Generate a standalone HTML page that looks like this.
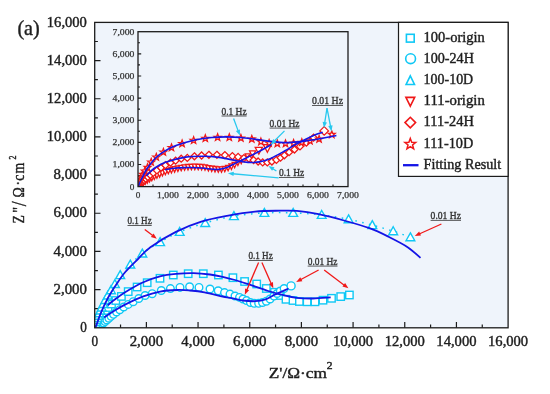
<!DOCTYPE html>
<html lang="en"><head><meta charset="utf-8"><title>Nyquist plot</title>
<style>html,body{margin:0;padding:0;background:#fff}svg{display:block}</style></head>
<body>
<svg width="550" height="394" viewBox="0 0 550 394" font-family="'Liberation Serif', 'DejaVu Serif', serif">
<rect width="550" height="394" fill="#fff"/>
<rect x="94.7" y="22.4" width="413.4" height="305.4" fill="#eff4fb"/>
<path d="M120.54 327.8 v-3.2 M94.7 308.71 h3.2 M146.38 327.8 v-5.8 M94.7 289.62 h5.8 M172.21 327.8 v-3.2 M94.7 270.54 h3.2 M198.05 327.8 v-5.8 M94.7 251.45 h5.8 M223.89 327.8 v-3.2 M94.7 232.36 h3.2 M249.73 327.8 v-5.8 M94.7 213.27 h5.8 M275.56 327.8 v-3.2 M94.7 194.19 h3.2 M301.4 327.8 v-5.8 M94.7 175.1 h5.8 M327.24 327.8 v-3.2 M94.7 156.01 h3.2 M353.08 327.8 v-5.8 M94.7 136.92 h5.8 M378.91 327.8 v-3.2 M94.7 117.84 h3.2 M404.75 327.8 v-5.8 M94.7 98.75 h5.8 M430.59 327.8 v-3.2 M94.7 79.66 h3.2 M456.43 327.8 v-5.8 M94.7 60.57 h5.8 M482.26 327.8 v-3.2 M94.7 41.49 h3.2" stroke="#1c1c1c" stroke-width="1.2" fill="none"/>
<defs><clipPath id="cm"><rect x="94.7" y="22.4" width="413.4" height="305.4"/></clipPath><clipPath id="ci"><rect x="138" y="31.7" width="210" height="154.9"/></clipPath></defs>
<g id="main-data" clip-path="url(#cm)">
<path d="M410.4 237.3 C407.53 236.28 399.55 233.23 393.2 231.2 C386.85 229.17 379.73 227.08 372.3 225.1 C364.87 223.12 357.03 221 348.6 219.3 C340.17 217.6 330.93 215.97 321.7 214.9 C312.47 213.83 302.75 213.23 293.2 212.9 C283.65 212.57 274.28 212.37 264.4 212.9 C254.52 213.43 243.77 214.42 233.9 216.1 C224.03 217.78 214.23 220.37 205.2 223 C196.17 225.63 187.22 228.72 179.7 231.9 C172.18 235.08 166.33 238.5 160.1 242.1 C153.87 245.7 147.27 249.77 142.3 253.5 C137.33 257.23 133.98 260.9 130.3 264.5 C126.62 268.1 121.88 273.33 120.2 275.1" fill="none" stroke="#10c8f5" stroke-width="1.5" stroke-dasharray="1.6 5.4"/>
<rect x="91.8" y="323.8" width="7.4" height="7.4" fill="#fff" stroke="#10c8f5" stroke-width="1.4"/>
<rect x="92.8" y="322.3" width="7.4" height="7.4" fill="#fff" stroke="#10c8f5" stroke-width="1.4"/>
<rect x="93.8" y="320.3" width="7.4" height="7.4" fill="#fff" stroke="#10c8f5" stroke-width="1.4"/>
<rect x="94.8" y="318.3" width="7.4" height="7.4" fill="#fff" stroke="#10c8f5" stroke-width="1.4"/>
<rect x="95.8" y="316.3" width="7.4" height="7.4" fill="#fff" stroke="#10c8f5" stroke-width="1.4"/>
<rect x="96.8" y="314.3" width="7.4" height="7.4" fill="#fff" stroke="#10c8f5" stroke-width="1.4"/>
<rect x="98.3" y="311.8" width="7.4" height="7.4" fill="#fff" stroke="#10c8f5" stroke-width="1.4"/>
<rect x="99.8" y="309.3" width="7.4" height="7.4" fill="#fff" stroke="#10c8f5" stroke-width="1.4"/>
<rect x="101.8" y="306.8" width="7.4" height="7.4" fill="#fff" stroke="#10c8f5" stroke-width="1.4"/>
<rect x="104.3" y="303.8" width="7.4" height="7.4" fill="#fff" stroke="#10c8f5" stroke-width="1.4"/>
<rect x="107.8" y="300.3" width="7.4" height="7.4" fill="#fff" stroke="#10c8f5" stroke-width="1.4"/>
<rect x="112.1" y="296.8" width="7.4" height="7.4" fill="#fff" stroke="#10c8f5" stroke-width="1.4"/>
<rect x="117.7" y="292.7" width="7.4" height="7.4" fill="#fff" stroke="#10c8f5" stroke-width="1.4"/>
<rect x="124.5" y="287.9" width="7.4" height="7.4" fill="#fff" stroke="#10c8f5" stroke-width="1.4"/>
<rect x="133.4" y="283.3" width="7.4" height="7.4" fill="#fff" stroke="#10c8f5" stroke-width="1.4"/>
<rect x="143.5" y="279" width="7.4" height="7.4" fill="#fff" stroke="#10c8f5" stroke-width="1.4"/>
<rect x="156.3" y="274.6" width="7.4" height="7.4" fill="#fff" stroke="#10c8f5" stroke-width="1.4"/>
<rect x="169.6" y="271.3" width="7.4" height="7.4" fill="#fff" stroke="#10c8f5" stroke-width="1.4"/>
<rect x="184.5" y="270" width="7.4" height="7.4" fill="#fff" stroke="#10c8f5" stroke-width="1.4"/>
<rect x="199.6" y="270" width="7.4" height="7.4" fill="#fff" stroke="#10c8f5" stroke-width="1.4"/>
<rect x="214.7" y="271.3" width="7.4" height="7.4" fill="#fff" stroke="#10c8f5" stroke-width="1.4"/>
<rect x="229.2" y="274" width="7.4" height="7.4" fill="#fff" stroke="#10c8f5" stroke-width="1.4"/>
<rect x="240.9" y="277.8" width="7.4" height="7.4" fill="#fff" stroke="#10c8f5" stroke-width="1.4"/>
<rect x="253" y="280.3" width="7.4" height="7.4" fill="#fff" stroke="#10c8f5" stroke-width="1.4"/>
<rect x="262.6" y="284.8" width="7.4" height="7.4" fill="#fff" stroke="#10c8f5" stroke-width="1.4"/>
<rect x="270.8" y="288.6" width="7.4" height="7.4" fill="#fff" stroke="#10c8f5" stroke-width="1.4"/>
<rect x="276.6" y="291.8" width="7.4" height="7.4" fill="#fff" stroke="#10c8f5" stroke-width="1.4"/>
<rect x="282.3" y="295.6" width="7.4" height="7.4" fill="#fff" stroke="#10c8f5" stroke-width="1.4"/>
<rect x="289.3" y="296.8" width="7.4" height="7.4" fill="#fff" stroke="#10c8f5" stroke-width="1.4"/>
<rect x="295.7" y="297.8" width="7.4" height="7.4" fill="#fff" stroke="#10c8f5" stroke-width="1.4"/>
<rect x="303.4" y="298.1" width="7.4" height="7.4" fill="#fff" stroke="#10c8f5" stroke-width="1.4"/>
<rect x="311.3" y="298.1" width="7.4" height="7.4" fill="#fff" stroke="#10c8f5" stroke-width="1.4"/>
<rect x="319.3" y="296.5" width="7.4" height="7.4" fill="#fff" stroke="#10c8f5" stroke-width="1.4"/>
<rect x="327.8" y="294.6" width="7.4" height="7.4" fill="#fff" stroke="#10c8f5" stroke-width="1.4"/>
<rect x="337" y="292.9" width="7.4" height="7.4" fill="#fff" stroke="#10c8f5" stroke-width="1.4"/>
<rect x="345.7" y="291.3" width="7.4" height="7.4" fill="#fff" stroke="#10c8f5" stroke-width="1.4"/>
<circle cx="95.4" cy="328" r="3.8" fill="#fff" stroke="#10c8f5" stroke-width="1.4"/>
<circle cx="96.3" cy="327.8" r="3.8" fill="#fff" stroke="#10c8f5" stroke-width="1.4"/>
<circle cx="97.3" cy="327.5" r="3.8" fill="#fff" stroke="#10c8f5" stroke-width="1.4"/>
<circle cx="98.4" cy="327" r="3.8" fill="#fff" stroke="#10c8f5" stroke-width="1.4"/>
<circle cx="99.5" cy="326.2" r="3.8" fill="#fff" stroke="#10c8f5" stroke-width="1.4"/>
<circle cx="100.7" cy="325.3" r="3.8" fill="#fff" stroke="#10c8f5" stroke-width="1.4"/>
<circle cx="102" cy="324.2" r="3.8" fill="#fff" stroke="#10c8f5" stroke-width="1.4"/>
<circle cx="103.4" cy="323" r="3.8" fill="#fff" stroke="#10c8f5" stroke-width="1.4"/>
<circle cx="105" cy="321.5" r="3.8" fill="#fff" stroke="#10c8f5" stroke-width="1.4"/>
<circle cx="106.8" cy="320" r="3.8" fill="#fff" stroke="#10c8f5" stroke-width="1.4"/>
<circle cx="108.8" cy="318.2" r="3.8" fill="#fff" stroke="#10c8f5" stroke-width="1.4"/>
<circle cx="111" cy="316.3" r="3.8" fill="#fff" stroke="#10c8f5" stroke-width="1.4"/>
<circle cx="113.5" cy="314.3" r="3.8" fill="#fff" stroke="#10c8f5" stroke-width="1.4"/>
<circle cx="116.5" cy="312" r="3.8" fill="#fff" stroke="#10c8f5" stroke-width="1.4"/>
<circle cx="119.8" cy="309.7" r="3.8" fill="#fff" stroke="#10c8f5" stroke-width="1.4"/>
<circle cx="123.7" cy="307" r="3.8" fill="#fff" stroke="#10c8f5" stroke-width="1.4"/>
<circle cx="128.2" cy="304.4" r="3.8" fill="#fff" stroke="#10c8f5" stroke-width="1.4"/>
<circle cx="133.2" cy="301.7" r="3.8" fill="#fff" stroke="#10c8f5" stroke-width="1.4"/>
<circle cx="138.8" cy="298.5" r="3.8" fill="#fff" stroke="#10c8f5" stroke-width="1.4"/>
<circle cx="145.1" cy="295.5" r="3.8" fill="#fff" stroke="#10c8f5" stroke-width="1.4"/>
<circle cx="152.2" cy="293.7" r="3.8" fill="#fff" stroke="#10c8f5" stroke-width="1.4"/>
<circle cx="161.3" cy="290.5" r="3.8" fill="#fff" stroke="#10c8f5" stroke-width="1.4"/>
<circle cx="170.4" cy="288.6" r="3.8" fill="#fff" stroke="#10c8f5" stroke-width="1.4"/>
<circle cx="180" cy="287.4" r="3.8" fill="#fff" stroke="#10c8f5" stroke-width="1.4"/>
<circle cx="189.6" cy="286.8" r="3.8" fill="#fff" stroke="#10c8f5" stroke-width="1.4"/>
<circle cx="199" cy="287.4" r="3.8" fill="#fff" stroke="#10c8f5" stroke-width="1.4"/>
<circle cx="210" cy="289" r="3.8" fill="#fff" stroke="#10c8f5" stroke-width="1.4"/>
<circle cx="218.2" cy="290.8" r="3.8" fill="#fff" stroke="#10c8f5" stroke-width="1.4"/>
<circle cx="224.5" cy="292.6" r="3.8" fill="#fff" stroke="#10c8f5" stroke-width="1.4"/>
<circle cx="230" cy="294.1" r="3.8" fill="#fff" stroke="#10c8f5" stroke-width="1.4"/>
<circle cx="235" cy="296" r="3.8" fill="#fff" stroke="#10c8f5" stroke-width="1.4"/>
<circle cx="239.5" cy="297.4" r="3.8" fill="#fff" stroke="#10c8f5" stroke-width="1.4"/>
<circle cx="243" cy="299" r="3.8" fill="#fff" stroke="#10c8f5" stroke-width="1.4"/>
<circle cx="246.6" cy="300.6" r="3.8" fill="#fff" stroke="#10c8f5" stroke-width="1.4"/>
<circle cx="250.4" cy="302.5" r="3.8" fill="#fff" stroke="#10c8f5" stroke-width="1.4"/>
<circle cx="254.2" cy="303.3" r="3.8" fill="#fff" stroke="#10c8f5" stroke-width="1.4"/>
<circle cx="258.6" cy="303.3" r="3.8" fill="#fff" stroke="#10c8f5" stroke-width="1.4"/>
<circle cx="262.5" cy="302.5" r="3.8" fill="#fff" stroke="#10c8f5" stroke-width="1.4"/>
<circle cx="266.3" cy="301.2" r="3.8" fill="#fff" stroke="#10c8f5" stroke-width="1.4"/>
<circle cx="270.1" cy="299" r="3.8" fill="#fff" stroke="#10c8f5" stroke-width="1.4"/>
<circle cx="273.9" cy="296.1" r="3.8" fill="#fff" stroke="#10c8f5" stroke-width="1.4"/>
<circle cx="277.1" cy="293.5" r="3.8" fill="#fff" stroke="#10c8f5" stroke-width="1.4"/>
<circle cx="280.3" cy="291" r="3.8" fill="#fff" stroke="#10c8f5" stroke-width="1.4"/>
<circle cx="284.1" cy="288.5" r="3.8" fill="#fff" stroke="#10c8f5" stroke-width="1.4"/>
<circle cx="291.1" cy="285.9" r="4" fill="#fff" stroke="#10c8f5" stroke-width="1.4"/>
<path d="M95.1 322.78 L99.5 330.68 L90.7 330.68 Z" fill="#fff" stroke="#10c8f5" stroke-width="1.4"/>
<path d="M95.4 321.28 L99.8 329.18 L91 329.18 Z" fill="#fff" stroke="#10c8f5" stroke-width="1.4"/>
<path d="M95.8 319.58 L100.2 327.48 L91.4 327.48 Z" fill="#fff" stroke="#10c8f5" stroke-width="1.4"/>
<path d="M96.3 317.58 L100.7 325.48 L91.9 325.48 Z" fill="#fff" stroke="#10c8f5" stroke-width="1.4"/>
<path d="M96.9 315.58 L101.3 323.48 L92.5 323.48 Z" fill="#fff" stroke="#10c8f5" stroke-width="1.4"/>
<path d="M97.6 313.58 L102 321.48 L93.2 321.48 Z" fill="#fff" stroke="#10c8f5" stroke-width="1.4"/>
<path d="M98.4 311.28 L102.8 319.18 L94 319.18 Z" fill="#fff" stroke="#10c8f5" stroke-width="1.4"/>
<path d="M99.3 308.78 L103.7 316.68 L94.9 316.68 Z" fill="#fff" stroke="#10c8f5" stroke-width="1.4"/>
<path d="M100.4 306.08 L104.8 313.98 L96 313.98 Z" fill="#fff" stroke="#10c8f5" stroke-width="1.4"/>
<path d="M101.7 303.08 L106.1 310.98 L97.3 310.98 Z" fill="#fff" stroke="#10c8f5" stroke-width="1.4"/>
<path d="M103.3 299.58 L107.7 307.48 L98.9 307.48 Z" fill="#fff" stroke="#10c8f5" stroke-width="1.4"/>
<path d="M105.3 295.58 L109.7 303.48 L100.9 303.48 Z" fill="#fff" stroke="#10c8f5" stroke-width="1.4"/>
<path d="M107.8 291.08 L112.2 298.98 L103.4 298.98 Z" fill="#fff" stroke="#10c8f5" stroke-width="1.4"/>
<path d="M111 285.78 L115.4 293.68 L106.6 293.68 Z" fill="#fff" stroke="#10c8f5" stroke-width="1.4"/>
<path d="M114.9 279.58 L119.3 287.48 L110.5 287.48 Z" fill="#fff" stroke="#10c8f5" stroke-width="1.4"/>
<path d="M120.2 270.68 L124.6 278.58 L115.8 278.58 Z" fill="#fff" stroke="#10c8f5" stroke-width="1.4"/>
<path d="M130.3 260.08 L134.7 267.98 L125.9 267.98 Z" fill="#fff" stroke="#10c8f5" stroke-width="1.4"/>
<path d="M142.3 249.08 L146.7 256.98 L137.9 256.98 Z" fill="#fff" stroke="#10c8f5" stroke-width="1.4"/>
<path d="M160.1 237.68 L164.5 245.58 L155.7 245.58 Z" fill="#fff" stroke="#10c8f5" stroke-width="1.4"/>
<path d="M179.7 227.48 L184.1 235.38 L175.3 235.38 Z" fill="#fff" stroke="#10c8f5" stroke-width="1.4"/>
<path d="M205.2 218.58 L209.6 226.48 L200.8 226.48 Z" fill="#fff" stroke="#10c8f5" stroke-width="1.4"/>
<path d="M233.9 211.68 L238.3 219.58 L229.5 219.58 Z" fill="#fff" stroke="#10c8f5" stroke-width="1.4"/>
<path d="M264.4 208.48 L268.8 216.38 L260 216.38 Z" fill="#fff" stroke="#10c8f5" stroke-width="1.4"/>
<path d="M293.2 208.48 L297.6 216.38 L288.8 216.38 Z" fill="#fff" stroke="#10c8f5" stroke-width="1.4"/>
<path d="M321.7 210.48 L326.1 218.38 L317.3 218.38 Z" fill="#fff" stroke="#10c8f5" stroke-width="1.4"/>
<path d="M348.6 214.88 L353 222.78 L344.2 222.78 Z" fill="#fff" stroke="#10c8f5" stroke-width="1.4"/>
<path d="M372.3 220.68 L376.7 228.58 L367.9 228.58 Z" fill="#fff" stroke="#10c8f5" stroke-width="1.4"/>
<path d="M393.2 226.78 L397.6 234.68 L388.8 234.68 Z" fill="#fff" stroke="#10c8f5" stroke-width="1.4"/>
<path d="M410.4 232.88 L414.8 240.78 L406 240.78 Z" fill="#fff" stroke="#10c8f5" stroke-width="1.4"/>
<path d="M107.8 305.2 C108.68 304.47 110.15 303 113.1 300.8 C116.05 298.6 120.47 295.1 125.5 292 C130.53 288.9 137.55 284.82 143.3 282.2 C149.05 279.58 154.55 277.68 160 276.3 C165.45 274.92 170.4 274.42 176 273.9 C181.6 273.38 187.93 273.1 193.6 273.2 C199.27 273.3 205.15 273.9 210 274.5 C214.85 275.1 218.53 275.88 222.7 276.8 C226.87 277.72 230.62 278.73 235 280 C239.38 281.27 243.47 282.57 249 284.4 C254.53 286.23 262.45 289.2 268.2 291 C273.95 292.8 278.78 294.07 283.5 295.2 C288.22 296.33 291.58 297.25 296.5 297.8 C301.42 298.35 307.3 298.57 313 298.5 C318.7 298.43 327.75 297.58 330.7 297.4" fill="none" stroke="#1414e6" stroke-width="1.8"/>
<path d="M104.2 317.4 C105.68 316.42 109.55 313.67 113.1 311.5 C116.65 309.33 120.47 306.92 125.5 304.4 C130.53 301.88 137.55 298.53 143.3 296.4 C149.05 294.27 154.33 292.67 160 291.6 C165.67 290.53 172.3 290.18 177.3 290 C182.3 289.82 185.47 290.12 190 290.5 C194.53 290.88 199.05 291.3 204.5 292.3 C209.95 293.3 218.45 295.58 222.7 296.5 C226.95 297.42 226.67 297.13 230 297.8 C233.33 298.47 238.45 299.93 242.7 300.5 C246.95 301.07 251.68 301.4 255.5 301.2 C259.32 301 262.43 300.37 265.6 299.3 C268.77 298.23 270.68 296.6 274.5 294.8 C278.32 293 286.17 289.55 288.5 288.5" fill="none" stroke="#1414e6" stroke-width="1.8"/>
<path d="M95 328 C95.2 327.62 95.25 328.15 96.2 325.7 C97.15 323.25 98.77 317.88 100.7 313.3 C102.63 308.72 105.15 303.08 107.8 298.2 C110.45 293.32 113.68 288.37 116.6 284 C119.52 279.63 121.73 276.17 125.3 272 C128.87 267.83 133.82 263.13 138 259 C142.18 254.87 144.08 251.72 150.4 247.2 C156.72 242.68 167.42 236.15 175.9 231.9 C184.38 227.65 192.82 224.37 201.3 221.7 C209.78 219.03 217.85 217.58 226.8 215.9 C235.75 214.22 246.07 212.47 255 211.6 C263.93 210.73 273.4 210.82 280.4 210.7 C287.4 210.58 290.63 210.32 297 210.9 C303.37 211.48 310.77 212.6 318.6 214.2 C326.43 215.8 335.52 218.17 344 220.5 C352.48 222.83 362 225.45 369.5 228.2 C377 230.95 382.58 233.8 389 237 C395.42 240.2 402.75 243.92 408 247.4 C413.25 250.88 418.42 256.15 420.5 257.9" fill="none" stroke="#1414e6" stroke-width="1.8"/>
</g>
<g id="main-ann">
<text x="127.5" y="224.2" font-size="9.6" textLength="24.2" lengthAdjust="spacingAndGlyphs" fill="#333" stroke="#333" stroke-width="0.3">0.1 Hz</text><line x1="127.5" y1="225.5" x2="151.7" y2="225.5" stroke="#333" stroke-width="0.8"/>
<line x1="144.8" y1="229.4" x2="153.02" y2="235.84" stroke="#f01818" stroke-width="1.3"/><path d="M156.8 238.8 L150.88 236.96 L153.59 233.49 Z" fill="#f01818"/>
<text x="248.4" y="259.2" font-size="9.6" textLength="24.4" lengthAdjust="spacingAndGlyphs" fill="#333" stroke="#333" stroke-width="0.3">0.1 Hz</text><line x1="248.4" y1="260.5" x2="272.8" y2="260.5" stroke="#333" stroke-width="0.8"/>
<line x1="258.6" y1="262.4" x2="246.69" y2="290.29" stroke="#f01818" stroke-width="1.3"/><path d="M244.8 294.7 L245.06 288.5 L249.1 290.23 Z" fill="#f01818"/>
<line x1="261.9" y1="262.4" x2="271.37" y2="283.91" stroke="#f01818" stroke-width="1.3"/><path d="M273.3 288.3 L268.95 283.88 L272.98 282.11 Z" fill="#f01818"/>
<text x="307.7" y="264.8" font-size="9.6" textLength="29.8" lengthAdjust="spacingAndGlyphs" fill="#333" stroke="#333" stroke-width="0.3">0.01 Hz</text><line x1="307.7" y1="266.1" x2="337.5" y2="266.1" stroke="#333" stroke-width="0.8"/>
<line x1="318.6" y1="270" x2="300.43" y2="279.73" stroke="#f01818" stroke-width="1.3"/><path d="M296.2 282 L300.27 277.32 L302.35 281.2 Z" fill="#f01818"/>
<line x1="324.2" y1="270" x2="344.57" y2="285.4" stroke="#f01818" stroke-width="1.3"/><path d="M348.4 288.3 L342.45 286.56 L345.1 283.05 Z" fill="#f01818"/>
<text x="430.6" y="219.1" font-size="9.6" textLength="30.4" lengthAdjust="spacingAndGlyphs" fill="#333" stroke="#333" stroke-width="0.3">0.01 Hz</text><line x1="430.6" y1="220.4" x2="461" y2="220.4" stroke="#333" stroke-width="0.8"/>
<line x1="441.4" y1="224" x2="419.18" y2="234.03" stroke="#f01818" stroke-width="1.3"/><path d="M414.8 236 L419.18 231.61 L420.99 235.62 Z" fill="#f01818"/>
</g>
<rect x="94.7" y="22.4" width="413.4" height="305.4" fill="none" stroke="#1c1c1c" stroke-width="1.3"/>
<text x="94.7" y="346.4" font-size="14" text-anchor="middle" textLength="6.6" lengthAdjust="spacingAndGlyphs" fill="#1e1e1e" stroke="#1e1e1e" stroke-width="0.4">0</text>
<text x="86.9" y="331.9" font-size="14" text-anchor="end" textLength="6.6" lengthAdjust="spacingAndGlyphs" fill="#1e1e1e" stroke="#1e1e1e" stroke-width="0.4">0</text>
<text x="146.38" y="346.4" font-size="14" text-anchor="middle" textLength="33.4" lengthAdjust="spacingAndGlyphs" fill="#1e1e1e" stroke="#1e1e1e" stroke-width="0.4">2,000</text>
<text x="86.9" y="293.73" font-size="14" text-anchor="end" textLength="33.4" lengthAdjust="spacingAndGlyphs" fill="#1e1e1e" stroke="#1e1e1e" stroke-width="0.4">2,000</text>
<text x="198.05" y="346.4" font-size="14" text-anchor="middle" textLength="33.4" lengthAdjust="spacingAndGlyphs" fill="#1e1e1e" stroke="#1e1e1e" stroke-width="0.4">4,000</text>
<text x="86.9" y="255.55" font-size="14" text-anchor="end" textLength="33.4" lengthAdjust="spacingAndGlyphs" fill="#1e1e1e" stroke="#1e1e1e" stroke-width="0.4">4,000</text>
<text x="249.73" y="346.4" font-size="14" text-anchor="middle" textLength="33.4" lengthAdjust="spacingAndGlyphs" fill="#1e1e1e" stroke="#1e1e1e" stroke-width="0.4">6,000</text>
<text x="86.9" y="217.37" font-size="14" text-anchor="end" textLength="33.4" lengthAdjust="spacingAndGlyphs" fill="#1e1e1e" stroke="#1e1e1e" stroke-width="0.4">6,000</text>
<text x="301.4" y="346.4" font-size="14" text-anchor="middle" textLength="33.4" lengthAdjust="spacingAndGlyphs" fill="#1e1e1e" stroke="#1e1e1e" stroke-width="0.4">8,000</text>
<text x="86.9" y="179.2" font-size="14" text-anchor="end" textLength="33.4" lengthAdjust="spacingAndGlyphs" fill="#1e1e1e" stroke="#1e1e1e" stroke-width="0.4">8,000</text>
<text x="353.08" y="346.4" font-size="14" text-anchor="middle" textLength="40.1" lengthAdjust="spacingAndGlyphs" fill="#1e1e1e" stroke="#1e1e1e" stroke-width="0.4">10,000</text>
<text x="86.9" y="141.02" font-size="14" text-anchor="end" textLength="40.1" lengthAdjust="spacingAndGlyphs" fill="#1e1e1e" stroke="#1e1e1e" stroke-width="0.4">10,000</text>
<text x="404.75" y="346.4" font-size="14" text-anchor="middle" textLength="40.1" lengthAdjust="spacingAndGlyphs" fill="#1e1e1e" stroke="#1e1e1e" stroke-width="0.4">12,000</text>
<text x="86.9" y="102.85" font-size="14" text-anchor="end" textLength="40.1" lengthAdjust="spacingAndGlyphs" fill="#1e1e1e" stroke="#1e1e1e" stroke-width="0.4">12,000</text>
<text x="456.43" y="346.4" font-size="14" text-anchor="middle" textLength="40.1" lengthAdjust="spacingAndGlyphs" fill="#1e1e1e" stroke="#1e1e1e" stroke-width="0.4">14,000</text>
<text x="86.9" y="64.67" font-size="14" text-anchor="end" textLength="40.1" lengthAdjust="spacingAndGlyphs" fill="#1e1e1e" stroke="#1e1e1e" stroke-width="0.4">14,000</text>
<text x="508.1" y="346.4" font-size="14" text-anchor="middle" textLength="40.1" lengthAdjust="spacingAndGlyphs" fill="#1e1e1e" stroke="#1e1e1e" stroke-width="0.4">16,000</text>
<text x="86.9" y="26.5" font-size="14" text-anchor="end" textLength="40.1" lengthAdjust="spacingAndGlyphs" fill="#1e1e1e" stroke="#1e1e1e" stroke-width="0.4">16,000</text>
<text x="268.8" y="377.6" font-size="14.4" fill="#1e1e1e" textLength="63.8" lengthAdjust="spacingAndGlyphs" stroke="#1e1e1e" stroke-width="0.4">Z'/Ω·cm<tspan font-size="9.6" dy="-8.3">2</tspan></text>
<text transform="translate(24.0 223.5) rotate(-90) scale(0.8 1)" font-size="17.2" fill="#1e1e1e" stroke="#1e1e1e" stroke-width="0.4"><tspan x="0">Z</tspan><tspan x="13.9">'</tspan><tspan x="17.1">'</tspan><tspan x="21.5" font-size="22" dy="1.6">/</tspan><tspan x="32.6" dy="-1.6">Ω</tspan><tspan x="47.6">·</tspan><tspan x="53.3">c</tspan><tspan x="62.5">m</tspan><tspan x="80" font-size="10" dy="-8.4">2</tspan></text>
<text x="17.4" y="34.5" font-size="21.5" textLength="22.4" lengthAdjust="spacingAndGlyphs" fill="#1e1e1e" stroke="#1e1e1e" stroke-width="0.4">(a)</text>
<g id="inset">
<rect x="138" y="31.7" width="210" height="154.9" fill="#eff4fb"/>
<path d="M153 186.6 v-2 M138 175.54 h2 M168 186.6 v-3.2 M138 164.47 h3.2 M183 186.6 v-2 M138 153.41 h2 M198 186.6 v-3.2 M138 142.34 h3.2 M213 186.6 v-2 M138 131.28 h2 M228 186.6 v-3.2 M138 120.21 h3.2 M243 186.6 v-2 M138 109.15 h2 M258 186.6 v-3.2 M138 98.09 h3.2 M273 186.6 v-2 M138 87.02 h2 M288 186.6 v-3.2 M138 75.96 h3.2 M303 186.6 v-2 M138 64.89 h2 M318 186.6 v-3.2 M138 53.83 h3.2 M333 186.6 v-2 M138 42.76 h2" stroke="#1c1c1c" stroke-width="1.1" fill="none"/>
<g clip-path="url(#ci)">
<path d="M138.7 188.62 L141.2 183.22 L136.2 183.22 Z" fill="#fff" stroke="#f01818" stroke-width="1.3"/>
<path d="M139.5 187.82 L142 182.42 L137 182.42 Z" fill="#fff" stroke="#f01818" stroke-width="1.3"/>
<path d="M140.6 187.02 L143.1 181.62 L138.1 181.62 Z" fill="#fff" stroke="#f01818" stroke-width="1.3"/>
<path d="M141.9 186.12 L144.4 180.72 L139.4 180.72 Z" fill="#fff" stroke="#f01818" stroke-width="1.3"/>
<path d="M143.5 185.22 L146 179.82 L141 179.82 Z" fill="#fff" stroke="#f01818" stroke-width="1.3"/>
<path d="M145.3 184.22 L147.8 178.82 L142.8 178.82 Z" fill="#fff" stroke="#f01818" stroke-width="1.3"/>
<path d="M147.3 183.12 L149.8 177.72 L144.8 177.72 Z" fill="#fff" stroke="#f01818" stroke-width="1.3"/>
<path d="M149.5 181.92 L152 176.52 L147 176.52 Z" fill="#fff" stroke="#f01818" stroke-width="1.3"/>
<path d="M151.8 180.72 L154.3 175.32 L149.3 175.32 Z" fill="#fff" stroke="#f01818" stroke-width="1.3"/>
<path d="M154.3 179.52 L156.8 174.12 L151.8 174.12 Z" fill="#fff" stroke="#f01818" stroke-width="1.3"/>
<path d="M156.9 178.32 L159.4 172.92 L154.4 172.92 Z" fill="#fff" stroke="#f01818" stroke-width="1.3"/>
<path d="M159.6 177.12 L162.1 171.72 L157.1 171.72 Z" fill="#fff" stroke="#f01818" stroke-width="1.3"/>
<path d="M162.4 175.92 L164.9 170.52 L159.9 170.52 Z" fill="#fff" stroke="#f01818" stroke-width="1.3"/>
<path d="M165.3 174.82 L167.8 169.42 L162.8 169.42 Z" fill="#fff" stroke="#f01818" stroke-width="1.3"/>
<path d="M168.3 173.82 L170.8 168.42 L165.8 168.42 Z" fill="#fff" stroke="#f01818" stroke-width="1.3"/>
<path d="M171.4 172.92 L173.9 167.52 L168.9 167.52 Z" fill="#fff" stroke="#f01818" stroke-width="1.3"/>
<path d="M174.6 172.12 L177.1 166.72 L172.1 166.72 Z" fill="#fff" stroke="#f01818" stroke-width="1.3"/>
<path d="M177.9 171.42 L180.4 166.02 L175.4 166.02 Z" fill="#fff" stroke="#f01818" stroke-width="1.3"/>
<path d="M181.2 170.82 L183.7 165.42 L178.7 165.42 Z" fill="#fff" stroke="#f01818" stroke-width="1.3"/>
<path d="M184.6 170.32 L187.1 164.92 L182.1 164.92 Z" fill="#fff" stroke="#f01818" stroke-width="1.3"/>
<path d="M188 169.92 L190.5 164.52 L185.5 164.52 Z" fill="#fff" stroke="#f01818" stroke-width="1.3"/>
<path d="M191.4 169.72 L193.9 164.32 L188.9 164.32 Z" fill="#fff" stroke="#f01818" stroke-width="1.3"/>
<path d="M194.8 169.62 L197.3 164.22 L192.3 164.22 Z" fill="#fff" stroke="#f01818" stroke-width="1.3"/>
<path d="M198.2 169.72 L200.7 164.32 L195.7 164.32 Z" fill="#fff" stroke="#f01818" stroke-width="1.3"/>
<path d="M201.6 169.92 L204.1 164.52 L199.1 164.52 Z" fill="#fff" stroke="#f01818" stroke-width="1.3"/>
<path d="M205 170.22 L207.5 164.82 L202.5 164.82 Z" fill="#fff" stroke="#f01818" stroke-width="1.3"/>
<path d="M208.4 171.02 L210.9 165.62 L205.9 165.62 Z" fill="#fff" stroke="#f01818" stroke-width="1.3"/>
<path d="M211.7 171.52 L214.2 166.12 L209.2 166.12 Z" fill="#fff" stroke="#f01818" stroke-width="1.3"/>
<path d="M215 171.92 L217.5 166.52 L212.5 166.52 Z" fill="#fff" stroke="#f01818" stroke-width="1.3"/>
<path d="M218.3 172.22 L220.8 166.82 L215.8 166.82 Z" fill="#fff" stroke="#f01818" stroke-width="1.3"/>
<path d="M221.5 172.22 L224 166.82 L219 166.82 Z" fill="#fff" stroke="#f01818" stroke-width="1.3"/>
<path d="M224.8 171.82 L227.3 166.42 L222.3 166.42 Z" fill="#fff" stroke="#f01818" stroke-width="1.3"/>
<path d="M228.1 170.82 L230.6 165.42 L225.6 165.42 Z" fill="#fff" stroke="#f01818" stroke-width="1.3"/>
<path d="M231.4 169.42 L233.9 164.02 L228.9 164.02 Z" fill="#fff" stroke="#f01818" stroke-width="1.3"/>
<path d="M234.6 167.82 L237.1 162.42 L232.1 162.42 Z" fill="#fff" stroke="#f01818" stroke-width="1.3"/>
<path d="M237.9 165.42 L240.4 160.02 L235.4 160.02 Z" fill="#fff" stroke="#f01818" stroke-width="1.3"/>
<path d="M241.2 163.62 L243.7 158.22 L238.7 158.22 Z" fill="#fff" stroke="#f01818" stroke-width="1.3"/>
<path d="M244.4 161.52 L246.9 156.12 L241.9 156.12 Z" fill="#fff" stroke="#f01818" stroke-width="1.3"/>
<path d="M247.7 159.32 L250.2 153.92 L245.2 153.92 Z" fill="#fff" stroke="#f01818" stroke-width="1.3"/>
<path d="M252.6 156.96 L255.6 150.96 L249.6 150.96 Z" fill="#fff" stroke="#f01818" stroke-width="1.3"/>
<path d="M258.8 154.21 L262.4 147.41 L255.2 147.41 Z" fill="#fff" stroke="#f01818" stroke-width="1.3"/>
<path d="M267.4 152.26 L271.4 144.66 L263.4 144.66 Z" fill="#fff" stroke="#f01818" stroke-width="1.3"/>
<path d="M138.9 182.2 L142.4 185.7 L138.9 189.2 L135.4 185.7 Z" fill="#fff" stroke="#f01818" stroke-width="1.3"/>
<path d="M139.6 181.4 L143.1 184.9 L139.6 188.4 L136.1 184.9 Z" fill="#fff" stroke="#f01818" stroke-width="1.3"/>
<path d="M140.4 180.5 L143.9 184 L140.4 187.5 L136.9 184 Z" fill="#fff" stroke="#f01818" stroke-width="1.3"/>
<path d="M141.4 179.4 L144.9 182.9 L141.4 186.4 L137.9 182.9 Z" fill="#fff" stroke="#f01818" stroke-width="1.3"/>
<path d="M142.6 178.2 L146.1 181.7 L142.6 185.2 L139.1 181.7 Z" fill="#fff" stroke="#f01818" stroke-width="1.3"/>
<path d="M144 176.8 L147.5 180.3 L144 183.8 L140.5 180.3 Z" fill="#fff" stroke="#f01818" stroke-width="1.3"/>
<path d="M145.7 175.3 L149.2 178.8 L145.7 182.3 L142.2 178.8 Z" fill="#fff" stroke="#f01818" stroke-width="1.3"/>
<path d="M147.8 173.5 L151.3 177 L147.8 180.5 L144.3 177 Z" fill="#fff" stroke="#f01818" stroke-width="1.3"/>
<path d="M150.3 171.5 L153.8 175 L150.3 178.5 L146.8 175 Z" fill="#fff" stroke="#f01818" stroke-width="1.3"/>
<path d="M153.3 169.4 L156.8 172.9 L153.3 176.4 L149.8 172.9 Z" fill="#fff" stroke="#f01818" stroke-width="1.3"/>
<path d="M156.9 166.9 L160.4 170.4 L156.9 173.9 L153.4 170.4 Z" fill="#fff" stroke="#f01818" stroke-width="1.3"/>
<path d="M161 164.3 L164.5 167.8 L161 171.3 L157.5 167.8 Z" fill="#fff" stroke="#f01818" stroke-width="1.3"/>
<path d="M165.4 161.7 L168.9 165.2 L165.4 168.7 L161.9 165.2 Z" fill="#fff" stroke="#f01818" stroke-width="1.3"/>
<path d="M170.5 159.2 L174 162.7 L170.5 166.2 L167 162.7 Z" fill="#fff" stroke="#f01818" stroke-width="1.3"/>
<path d="M175.6 157.2 L179.1 160.7 L175.6 164.2 L172.1 160.7 Z" fill="#fff" stroke="#f01818" stroke-width="1.3"/>
<path d="M181.2 155.2 L184.7 158.7 L181.2 162.2 L177.7 158.7 Z" fill="#fff" stroke="#f01818" stroke-width="1.3"/>
<path d="M187.3 154.4 L190.8 157.9 L187.3 161.4 L183.8 157.9 Z" fill="#fff" stroke="#f01818" stroke-width="1.3"/>
<path d="M194.4 152.8 L197.9 156.3 L194.4 159.8 L190.9 156.3 Z" fill="#fff" stroke="#f01818" stroke-width="1.3"/>
<path d="M201.6 152 L205.1 155.5 L201.6 159 L198.1 155.5 Z" fill="#fff" stroke="#f01818" stroke-width="1.3"/>
<path d="M208.9 151.3 L212.4 154.8 L208.9 158.3 L205.4 154.8 Z" fill="#fff" stroke="#f01818" stroke-width="1.3"/>
<path d="M216.9 151.3 L220.4 154.8 L216.9 158.3 L213.4 154.8 Z" fill="#fff" stroke="#f01818" stroke-width="1.3"/>
<path d="M224.9 151.6 L228.4 155.1 L224.9 158.6 L221.4 155.1 Z" fill="#fff" stroke="#f01818" stroke-width="1.3"/>
<path d="M232.4 152.6 L235.9 156.1 L232.4 159.6 L228.9 156.1 Z" fill="#fff" stroke="#f01818" stroke-width="1.3"/>
<path d="M238.1 153.4 L241.6 156.9 L238.1 160.4 L234.6 156.9 Z" fill="#fff" stroke="#f01818" stroke-width="1.3"/>
<path d="M243.9 154.6 L247.4 158.1 L243.9 161.6 L240.4 158.1 Z" fill="#fff" stroke="#f01818" stroke-width="1.3"/>
<path d="M249 155.3 L252.5 158.8 L249 162.3 L245.5 158.8 Z" fill="#fff" stroke="#f01818" stroke-width="1.3"/>
<path d="M253.6 156.6 L257.1 160.1 L253.6 163.6 L250.1 160.1 Z" fill="#fff" stroke="#f01818" stroke-width="1.3"/>
<path d="M258.1 158 L261.6 161.5 L258.1 165 L254.6 161.5 Z" fill="#fff" stroke="#f01818" stroke-width="1.3"/>
<path d="M262.7 158.9 L266.2 162.4 L262.7 165.9 L259.2 162.4 Z" fill="#fff" stroke="#f01818" stroke-width="1.3"/>
<path d="M267.3 158.9 L270.8 162.4 L267.3 165.9 L263.8 162.4 Z" fill="#fff" stroke="#f01818" stroke-width="1.3"/>
<path d="M271.9 158 L275.4 161.5 L271.9 165 L268.4 161.5 Z" fill="#fff" stroke="#f01818" stroke-width="1.3"/>
<path d="M276.4 156.4 L279.9 159.9 L276.4 163.4 L272.9 159.9 Z" fill="#fff" stroke="#f01818" stroke-width="1.3"/>
<path d="M280.5 154.2 L284 157.7 L280.5 161.2 L277 157.7 Z" fill="#fff" stroke="#f01818" stroke-width="1.3"/>
<path d="M284.4 151.8 L287.9 155.3 L284.4 158.8 L280.9 155.3 Z" fill="#fff" stroke="#f01818" stroke-width="1.3"/>
<path d="M289.1 148.7 L292.6 152.2 L289.1 155.7 L285.6 152.2 Z" fill="#fff" stroke="#f01818" stroke-width="1.3"/>
<path d="M294.5 146 L298 149.5 L294.5 153 L291 149.5 Z" fill="#fff" stroke="#f01818" stroke-width="1.3"/>
<path d="M300 142.9 L303.5 146.4 L300 149.9 L296.5 146.4 Z" fill="#fff" stroke="#f01818" stroke-width="1.3"/>
<path d="M306.4 139.2 L309.9 142.7 L306.4 146.2 L302.9 142.7 Z" fill="#fff" stroke="#f01818" stroke-width="1.3"/>
<path d="M313.6 134.1 L317.1 137.6 L313.6 141.1 L310.1 137.6 Z" fill="#fff" stroke="#f01818" stroke-width="1.3"/>
<path d="M324.2 126.6 L328.5 130.9 L324.2 135.2 L319.9 130.9 Z" fill="#fff" stroke="#f01818" stroke-width="1.3"/>
<path d="M138.3 182 L139.19 184.38 L141.72 184.49 L139.74 186.07 L140.42 188.51 L138.3 187.11 L136.18 188.51 L136.86 186.07 L134.88 184.49 L137.41 184.38 Z" fill="#fff" stroke="#f01818" stroke-width="1.3"/>
<path d="M138.8 180.4 L139.69 182.78 L142.22 182.89 L140.24 184.47 L140.92 186.91 L138.8 185.51 L136.68 186.91 L137.36 184.47 L135.38 182.89 L137.91 182.78 Z" fill="#fff" stroke="#f01818" stroke-width="1.3"/>
<path d="M139.4 178.4 L140.29 180.78 L142.82 180.89 L140.84 182.47 L141.52 184.91 L139.4 183.51 L137.28 184.91 L137.96 182.47 L135.98 180.89 L138.51 180.78 Z" fill="#fff" stroke="#f01818" stroke-width="1.3"/>
<path d="M140.2 176.2 L141.09 178.58 L143.62 178.69 L141.64 180.27 L142.32 182.71 L140.2 181.31 L138.08 182.71 L138.76 180.27 L136.78 178.69 L139.31 178.58 Z" fill="#fff" stroke="#f01818" stroke-width="1.3"/>
<path d="M141.3 173.7 L142.19 176.08 L144.72 176.19 L142.74 177.77 L143.42 180.21 L141.3 178.81 L139.18 180.21 L139.86 177.77 L137.88 176.19 L140.41 176.08 Z" fill="#fff" stroke="#f01818" stroke-width="1.3"/>
<path d="M142.8 170.9 L143.69 173.28 L146.22 173.39 L144.24 174.97 L144.92 177.41 L142.8 176.01 L140.68 177.41 L141.36 174.97 L139.38 173.39 L141.91 173.28 Z" fill="#fff" stroke="#f01818" stroke-width="1.3"/>
<path d="M144.8 167.6 L145.69 169.98 L148.22 170.09 L146.24 171.67 L146.92 174.11 L144.8 172.71 L142.68 174.11 L143.36 171.67 L141.38 170.09 L143.91 169.98 Z" fill="#fff" stroke="#f01818" stroke-width="1.3"/>
<path d="M147.5 163.9 L148.39 166.28 L150.92 166.39 L148.94 167.97 L149.62 170.41 L147.5 169.01 L145.38 170.41 L146.06 167.97 L144.08 166.39 L146.61 166.28 Z" fill="#fff" stroke="#f01818" stroke-width="1.3"/>
<path d="M151.2 158.6 L152.09 160.98 L154.62 161.09 L152.64 162.67 L153.32 165.11 L151.2 163.71 L149.08 165.11 L149.76 162.67 L147.78 161.09 L150.31 160.98 Z" fill="#fff" stroke="#f01818" stroke-width="1.3"/>
<path d="M156.3 153.6 L157.19 155.98 L159.72 156.09 L157.74 157.67 L158.42 160.11 L156.3 158.71 L154.18 160.11 L154.86 157.67 L152.88 156.09 L155.41 155.98 Z" fill="#fff" stroke="#f01818" stroke-width="1.3"/>
<path d="M163.4 148.5 L164.29 150.88 L166.82 150.99 L164.84 152.57 L165.52 155.01 L163.4 153.61 L161.28 155.01 L161.96 152.57 L159.98 150.99 L162.51 150.88 Z" fill="#fff" stroke="#f01818" stroke-width="1.3"/>
<path d="M171.5 144 L172.39 146.38 L174.92 146.49 L172.94 148.07 L173.62 150.51 L171.5 149.11 L169.38 150.51 L170.06 148.07 L168.08 146.49 L170.61 146.38 Z" fill="#fff" stroke="#f01818" stroke-width="1.3"/>
<path d="M182.1 140 L182.99 142.38 L185.52 142.49 L183.54 144.07 L184.22 146.51 L182.1 145.11 L179.98 146.51 L180.66 144.07 L178.68 142.49 L181.21 142.38 Z" fill="#fff" stroke="#f01818" stroke-width="1.3"/>
<path d="M193.6 136.8 L194.49 139.18 L197.02 139.29 L195.04 140.87 L195.72 143.31 L193.6 141.91 L191.48 143.31 L192.16 140.87 L190.18 139.29 L192.71 139.18 Z" fill="#fff" stroke="#f01818" stroke-width="1.3"/>
<path d="M205.3 134.8 L206.19 137.18 L208.72 137.29 L206.74 138.87 L207.42 141.31 L205.3 139.91 L203.18 141.31 L203.86 138.87 L201.88 137.29 L204.41 137.18 Z" fill="#fff" stroke="#f01818" stroke-width="1.3"/>
<path d="M217.6 133.8 L218.49 136.18 L221.02 136.29 L219.04 137.87 L219.72 140.31 L217.6 138.91 L215.48 140.31 L216.16 137.87 L214.18 136.29 L216.71 136.18 Z" fill="#fff" stroke="#f01818" stroke-width="1.3"/>
<path d="M229.3 133.8 L230.19 136.18 L232.72 136.29 L230.74 137.87 L231.42 140.31 L229.3 138.91 L227.18 140.31 L227.86 137.87 L225.88 136.29 L228.41 136.18 Z" fill="#fff" stroke="#f01818" stroke-width="1.3"/>
<path d="M240.9 134.5 L241.79 136.88 L244.32 136.99 L242.34 138.57 L243.02 141.01 L240.9 139.61 L238.78 141.01 L239.46 138.57 L237.48 136.99 L240.01 136.88 Z" fill="#fff" stroke="#f01818" stroke-width="1.3"/>
<path d="M251.8 135.5 L252.69 137.88 L255.22 137.99 L253.24 139.57 L253.92 142.01 L251.8 140.61 L249.68 142.01 L250.36 139.57 L248.38 137.99 L250.91 137.88 Z" fill="#fff" stroke="#f01818" stroke-width="1.3"/>
<path d="M260.9 138.2 L261.79 140.58 L264.32 140.69 L262.34 142.27 L263.02 144.71 L260.9 143.31 L258.78 144.71 L259.46 142.27 L257.48 140.69 L260.01 140.58 Z" fill="#fff" stroke="#f01818" stroke-width="1.3"/>
<path d="M269.1 139.5 L269.99 141.88 L272.52 141.99 L270.54 143.57 L271.22 146.01 L269.1 144.61 L266.98 146.01 L267.66 143.57 L265.68 141.99 L268.21 141.88 Z" fill="#fff" stroke="#f01818" stroke-width="1.3"/>
<path d="M277.3 140 L278.19 142.38 L280.72 142.49 L278.74 144.07 L279.42 146.51 L277.3 145.11 L275.18 146.51 L275.86 144.07 L273.88 142.49 L276.41 142.38 Z" fill="#fff" stroke="#f01818" stroke-width="1.3"/>
<path d="M285.5 140 L286.39 142.38 L288.92 142.49 L286.94 144.07 L287.62 146.51 L285.5 145.11 L283.38 146.51 L284.06 144.07 L282.08 142.49 L284.61 142.38 Z" fill="#fff" stroke="#f01818" stroke-width="1.3"/>
<path d="M293.6 139.7 L294.49 142.08 L297.02 142.19 L295.04 143.77 L295.72 146.21 L293.6 144.81 L291.48 146.21 L292.16 143.77 L290.18 142.19 L292.71 142.08 Z" fill="#fff" stroke="#f01818" stroke-width="1.3"/>
<path d="M301.8 138.8 L302.69 141.18 L305.22 141.29 L303.24 142.87 L303.92 145.31 L301.8 143.91 L299.68 145.31 L300.36 142.87 L298.38 141.29 L300.91 141.18 Z" fill="#fff" stroke="#f01818" stroke-width="1.3"/>
<path d="M310 137.3 L310.89 139.68 L313.42 139.79 L311.44 141.37 L312.12 143.81 L310 142.41 L307.88 143.81 L308.56 141.37 L306.58 139.79 L309.11 139.68 Z" fill="#fff" stroke="#f01818" stroke-width="1.3"/>
<path d="M319.1 135.5 L319.99 137.88 L322.52 137.99 L320.54 139.57 L321.22 142.01 L319.1 140.61 L316.98 142.01 L317.66 139.57 L315.68 137.99 L318.21 137.88 Z" fill="#fff" stroke="#f01818" stroke-width="1.3"/>
<path d="M331.8 130.9 L332.69 133.28 L335.22 133.39 L333.24 134.97 L333.92 137.41 L331.8 136.01 L329.68 137.41 L330.36 134.97 L328.38 133.39 L330.91 133.28 Z" fill="#fff" stroke="#f01818" stroke-width="1.3"/>
<path d="M165 169.8 C166.17 169.58 168.9 168.87 172 168.5 C175.1 168.13 179.23 167.72 183.6 167.6 C187.97 167.48 193.35 167.53 198.2 167.8 C203.05 168.07 209.23 168.93 212.7 169.2 C216.17 169.47 216.8 169.65 219 169.4 C221.2 169.15 222.93 168.83 225.9 167.7 C228.87 166.57 233.17 164.35 236.8 162.6 C240.43 160.85 244.07 159 247.7 157.2 C251.33 155.4 255.15 153.62 258.6 151.8 C262.05 149.98 266.25 147.57 268.4 146.3 C270.55 145.03 270.98 144.55 271.5 144.2" fill="none" stroke="#1414e6" stroke-width="1.6"/>
<path d="M146.2 175.9 C147.5 174.67 150.8 170.77 154 168.5 C157.2 166.23 160.12 164.2 165.4 162.3 C170.68 160.4 179.27 158.12 185.7 157.1 C192.13 156.08 198.43 156.15 204 156.2 C209.57 156.25 213.7 156.65 219.1 157.4 C224.5 158.15 231.6 159.87 236.4 160.7 C241.2 161.53 244.08 162.2 247.9 162.4 C251.72 162.6 255.5 162.57 259.3 161.9 C263.1 161.23 266.42 160.25 270.7 158.4 C274.98 156.55 280.87 153.12 285 150.8 C289.13 148.48 290.73 147.05 295.5 144.5 C300.27 141.95 309.07 137.55 313.6 135.5 C318.13 133.45 321.18 132.75 322.7 132.2" fill="none" stroke="#1414e6" stroke-width="1.6"/>
<path d="M138.2 186.4 C138.72 185.25 139.83 182.43 141.3 179.5 C142.77 176.57 144.58 172.42 147 168.8 C149.42 165.18 152.72 160.83 155.8 157.8 C158.88 154.77 162.13 152.63 165.5 150.6 C168.87 148.57 170.93 147.4 176 145.6 C181.07 143.8 189.93 141.15 195.9 139.8 C201.87 138.45 206.72 137.98 211.8 137.5 C216.88 137.02 221.55 136.9 226.4 136.9 C231.25 136.9 236.05 137.08 240.9 137.5 C245.75 137.92 250.65 138.75 255.5 139.4 C260.35 140.05 264.85 140.87 270 141.4 C275.15 141.93 280.65 142.65 286.4 142.6 C292.15 142.55 298.45 141.83 304.5 141.1 C310.55 140.37 317.38 139.13 322.7 138.2 C328.02 137.27 334.12 135.95 336.4 135.5" fill="none" stroke="#1414e6" stroke-width="1.6"/>
</g>
<text x="221.5" y="114.7" font-size="9.6" textLength="25.1" lengthAdjust="spacingAndGlyphs" fill="#333" stroke="#333" stroke-width="0.3">0.1 Hz</text><line x1="221.5" y1="116" x2="246.6" y2="116" stroke="#333" stroke-width="0.8"/>
<line x1="233.6" y1="118.5" x2="238.24" y2="131.1" stroke="#28c8ee" stroke-width="1.3"/><path d="M239.9 135.6 L235.83 130.92 L239.96 129.4 Z" fill="#28c8ee"/>
<text x="269.6" y="126.8" font-size="9.6" textLength="29.9" lengthAdjust="spacingAndGlyphs" fill="#333" stroke="#333" stroke-width="0.3">0.01 Hz</text><line x1="269.6" y1="128.1" x2="299.5" y2="128.1" stroke="#333" stroke-width="0.8"/>
<line x1="284.5" y1="130.9" x2="274.09" y2="141.31" stroke="#28c8ee" stroke-width="1.3"/><path d="M270.7 144.7 L273.25 139.04 L276.36 142.15 Z" fill="#28c8ee"/>
<text x="312" y="104.2" font-size="9.6" textLength="31" lengthAdjust="spacingAndGlyphs" fill="#333" stroke="#333" stroke-width="0.3">0.01 Hz</text><line x1="312" y1="105.5" x2="343" y2="105.5" stroke="#333" stroke-width="0.8"/>
<line x1="327" y1="108.1" x2="324.64" y2="123.16" stroke="#28c8ee" stroke-width="1.3"/><path d="M323.9 127.9 L322.62 121.83 L326.97 122.51 Z" fill="#28c8ee"/>
<line x1="327" y1="108.1" x2="330.59" y2="126.69" stroke="#28c8ee" stroke-width="1.3"/><path d="M331.5 131.4 L328.24 126.12 L332.56 125.29 Z" fill="#28c8ee"/>
<text x="279" y="176.2" font-size="9.6" textLength="25.2" lengthAdjust="spacingAndGlyphs" fill="#333" stroke="#333" stroke-width="0.3">0.1 Hz</text><line x1="279" y1="177.5" x2="304.2" y2="177.5" stroke="#333" stroke-width="0.8"/>
<line x1="276.4" y1="171" x2="272.45" y2="168.48" stroke="#28c8ee" stroke-width="1.3"/><path d="M268.4 165.9 L274.47 167.16 L272.11 170.87 Z" fill="#28c8ee"/>
<line x1="278.7" y1="177.9" x2="232.68" y2="173.73" stroke="#28c8ee" stroke-width="1.3"/><path d="M227.9 173.3 L233.87 171.63 L233.48 176.01 Z" fill="#28c8ee"/>
<rect x="138" y="31.7" width="210" height="154.9" fill="none" stroke="#1c1c1c" stroke-width="1.3"/>
<text x="138" y="197.9" font-size="9" text-anchor="middle" textLength="4.6" lengthAdjust="spacingAndGlyphs" fill="#333" stroke="#333" stroke-width="0.25">0</text>
<text x="134.4" y="189.5" font-size="9" text-anchor="end" textLength="4.6" lengthAdjust="spacingAndGlyphs" fill="#333" stroke="#333" stroke-width="0.25">0</text>
<text x="168" y="197.9" font-size="9" text-anchor="middle" textLength="21.8" lengthAdjust="spacingAndGlyphs" fill="#333" stroke="#333" stroke-width="0.25">1,000</text>
<text x="134.4" y="167.37" font-size="9" text-anchor="end" textLength="21.8" lengthAdjust="spacingAndGlyphs" fill="#333" stroke="#333" stroke-width="0.25">1,000</text>
<text x="198" y="197.9" font-size="9" text-anchor="middle" textLength="21.8" lengthAdjust="spacingAndGlyphs" fill="#333" stroke="#333" stroke-width="0.25">2,000</text>
<text x="134.4" y="145.24" font-size="9" text-anchor="end" textLength="21.8" lengthAdjust="spacingAndGlyphs" fill="#333" stroke="#333" stroke-width="0.25">2,000</text>
<text x="228" y="197.9" font-size="9" text-anchor="middle" textLength="21.8" lengthAdjust="spacingAndGlyphs" fill="#333" stroke="#333" stroke-width="0.25">3,000</text>
<text x="134.4" y="123.11" font-size="9" text-anchor="end" textLength="21.8" lengthAdjust="spacingAndGlyphs" fill="#333" stroke="#333" stroke-width="0.25">3,000</text>
<text x="258" y="197.9" font-size="9" text-anchor="middle" textLength="21.8" lengthAdjust="spacingAndGlyphs" fill="#333" stroke="#333" stroke-width="0.25">4,000</text>
<text x="134.4" y="100.99" font-size="9" text-anchor="end" textLength="21.8" lengthAdjust="spacingAndGlyphs" fill="#333" stroke="#333" stroke-width="0.25">4,000</text>
<text x="288" y="197.9" font-size="9" text-anchor="middle" textLength="21.8" lengthAdjust="spacingAndGlyphs" fill="#333" stroke="#333" stroke-width="0.25">5,000</text>
<text x="134.4" y="78.86" font-size="9" text-anchor="end" textLength="21.8" lengthAdjust="spacingAndGlyphs" fill="#333" stroke="#333" stroke-width="0.25">5,000</text>
<text x="318" y="197.9" font-size="9" text-anchor="middle" textLength="21.8" lengthAdjust="spacingAndGlyphs" fill="#333" stroke="#333" stroke-width="0.25">6,000</text>
<text x="134.4" y="56.73" font-size="9" text-anchor="end" textLength="21.8" lengthAdjust="spacingAndGlyphs" fill="#333" stroke="#333" stroke-width="0.25">6,000</text>
<text x="348" y="197.9" font-size="9" text-anchor="middle" textLength="21.8" lengthAdjust="spacingAndGlyphs" fill="#333" stroke="#333" stroke-width="0.25">7,000</text>
<text x="134.4" y="34.6" font-size="9" text-anchor="end" textLength="21.8" lengthAdjust="spacingAndGlyphs" fill="#333" stroke="#333" stroke-width="0.25">7,000</text>
</g>
<g id="legend">
<rect x="398.5" y="22.4" width="109.6" height="154" fill="#fff" stroke="#1c1c1c" stroke-width="1.2"/>
<rect x="406.4" y="34.3" width="7.8" height="7.8" fill="#fff" stroke="#10c8f5" stroke-width="1.6"/>
<circle cx="410.6" cy="58.7" r="4.9" fill="#fff" stroke="#10c8f5" stroke-width="1.6"/>
<path d="M410.3 75.88 L414.5 84.48 L406.1 84.48 Z" fill="#fff" stroke="#10c8f5" stroke-width="1.6"/>
<path d="M410.3 106.13 L414.7 97.33 L405.9 97.33 Z" fill="#fff" stroke="#f01818" stroke-width="1.6"/>
<path d="M410.3 117.3 L415.6 122.6 L410.3 127.9 L405 122.6 Z" fill="#fff" stroke="#f01818" stroke-width="1.6"/>
<path d="M410.3 138.5 L411.71 142.26 L415.72 142.44 L412.58 144.94 L413.65 148.81 L410.3 146.59 L406.95 148.81 L408.02 144.94 L404.88 142.44 L408.89 142.26 Z" fill="#fff" stroke="#f01818" stroke-width="1.5"/>
<line x1="403" y1="165.2" x2="418.5" y2="165.2" stroke="#1414e6" stroke-width="2.3"/>
<text x="423.6" y="42" font-size="14" textLength="61.2" lengthAdjust="spacingAndGlyphs" fill="#1e1e1e" stroke="#1e1e1e" stroke-width="0.4">100-origin</text>
<text x="423.6" y="63.1" font-size="14" textLength="50.3" lengthAdjust="spacingAndGlyphs" fill="#1e1e1e" stroke="#1e1e1e" stroke-width="0.4">100-24H</text>
<text x="423.6" y="84.2" font-size="14" textLength="49.6" lengthAdjust="spacingAndGlyphs" fill="#1e1e1e" stroke="#1e1e1e" stroke-width="0.4">100-10D</text>
<text x="423.6" y="105.3" font-size="14" textLength="61.2" lengthAdjust="spacingAndGlyphs" fill="#1e1e1e" stroke="#1e1e1e" stroke-width="0.4">111-origin</text>
<text x="423.6" y="126.4" font-size="14" textLength="50.3" lengthAdjust="spacingAndGlyphs" fill="#1e1e1e" stroke="#1e1e1e" stroke-width="0.4">111-24H</text>
<text x="423.6" y="147.7" font-size="14" textLength="49.6" lengthAdjust="spacingAndGlyphs" fill="#1e1e1e" stroke="#1e1e1e" stroke-width="0.4">111-10D</text>
<text x="423.6" y="169" font-size="14" textLength="77.6" lengthAdjust="spacingAndGlyphs" fill="#1e1e1e" stroke="#1e1e1e" stroke-width="0.4">Fitting Result</text>
</g>
</svg>
</body></html>
